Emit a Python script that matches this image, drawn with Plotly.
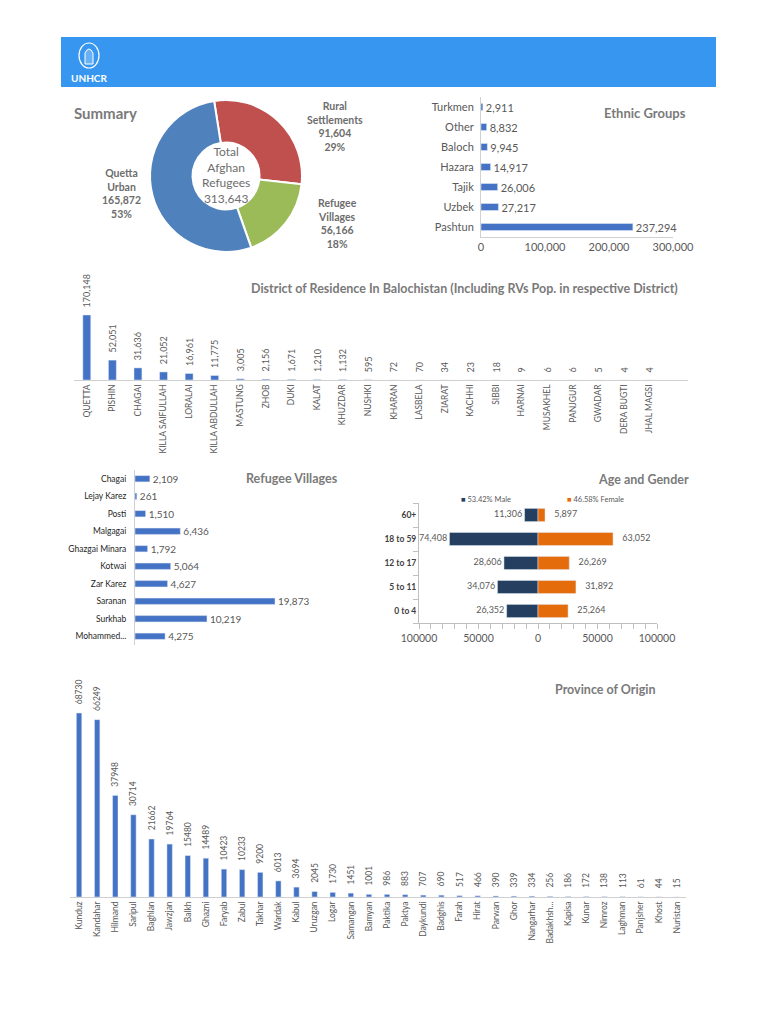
import plotly.graph_objects as go

# ---------------- DATA ----------------
summary_labels = ["Rural Settlements", "Refugee Villages", "Quetta Urban"]
summary_values = [91604, 56166, 165872]
summary_pct = ["29%", "18%", "53%"]
summary_total = 313643

ethnic_groups = ["Turkmen", "Other", "Baloch", "Hazara", "Tajik", "Uzbek", "Pashtun"]
ethnic_values = [2911, 8832, 9945, 14917, 26006, 27217, 237294]

districts = ["QUETTA", "PISHIN", "CHAGAI", "KILLA SAIFULLAH", "LORALAI", "KILLA ABDULLAH",
             "MASTUNG", "ZHOB", "DUKI", "KALAT", "KHUZDAR", "NUSHKI", "KHARAN", "LASBELA",
             "ZIARAT", "KACHHI", "SIBBI", "HARNAI", "MUSAKHEL", "PANJGUR", "GWADAR",
             "DERA BUGTI", "JHAL MAGSI"]
district_values = [170148, 52051, 31636, 21052, 16961, 11775, 3005, 2156, 1671, 1210, 1132,
                   595, 72, 70, 34, 23, 18, 9, 6, 6, 5, 4, 4]

villages = ["Chagai", "Lejay Karez", "Posti", "Malgagai", "Ghazgai Minara", "Kotwai",
            "Zar Karez", "Saranan", "Surkhab", "Mohammed..."]
village_values = [2109, 261, 1510, 6436, 1792, 5064, 4627, 19873, 10219, 4275]

age_groups = ["0 to 4", "5 to 11", "12 to 17", "18 to 59", "60+"]
male_values = [26352, 34076, 28606, 74408, 11306]
female_values = [25264, 31892, 26269, 63052, 5897]
male_label = "53.42% Male"
female_label = "46.58% Female"
age_ticks = [-100000, -50000, 0, 50000, 100000]
age_ticktext = ["100000", "50000", "0", "50000", "100000"]

provinces = ["Kunduz", "Kandahar", "Hilmand", "Saripul", "Baghlan", "Jawzjan", "Balkh",
             "Ghazni", "Faryab", "Zabul", "Takhar", "Wardak", "Kabul", "Uruzgan", "Logar",
             "Samangan", "Bamyan", "Paktika", "Paktya", "Daykundi", "Badghis", "Farah",
             "Hirat", "Parwan", "Ghor", "Nangarhar", "Badakhsh...", "Kapisa", "Kunar",
             "Nimroz", "Laghman", "Panjsher", "Khost", "Nuristan"]
province_values = [68730, 66249, 37948, 30714, 21662, 19764, 15480, 14489, 10423, 10233,
                   9200, 6013, 3694, 2045, 1730, 1451, 1001, 986, 883, 707, 690, 517, 466,
                   390, 339, 334, 256, 186, 172, 138, 113, 61, 44, 15]

# ---------------- STYLE ----------------
W, H = 768, 1024
FONT = "Lato"
BLUE = "#4472C4"
GRAY = "#595959"
TITLE_GRAY = "#7a7a7a"
AXIS_GRAY = "#D0D0D0"
NAVY = "#243F60"
ORANGE = "#E46C0A"
NB = "\u00a0"


def px(x):
    return x / W


def py(y):
    return 1 - y / H


fig = go.Figure()

# ---- Summary donut ----
fig.add_trace(go.Pie(
    labels=summary_labels, values=summary_values, hole=0.44, sort=False,
    direction="clockwise", rotation=-9, textinfo="none",
    marker=dict(colors=["#C0504D", "#9BBB59", "#4F81BD"], line=dict(color="white", width=2)),
    domain=dict(x=[px(150), px(302)], y=[py(252), py(100)]), showlegend=False,
))

# ---- Ethnic groups ----
fig.add_trace(go.Bar(
    x=ethnic_values, y=ethnic_groups, orientation="h", width=0.35,
    marker_color=BLUE, text=[f"{v:,}" for v in ethnic_values], textposition="outside",
    constraintext="none",
    textfont=dict(size=11, color=GRAY), cliponaxis=False, xaxis="x", yaxis="y",
    showlegend=False,
))

# ---- Districts ----
fig.add_trace(go.Bar(
    x=districts, y=district_values, width=0.31, marker_color=BLUE,
    text=[f"{NB * 2}{v:,}" for v in district_values], textposition="outside", textangle=-90,
    constraintext="none",
    textfont=dict(size=9, color=GRAY), cliponaxis=False, xaxis="x2", yaxis="y2",
    showlegend=False,
))

# ---- Refugee villages ----
fig.add_trace(go.Bar(
    x=village_values, y=villages, orientation="h", width=0.36, marker_color=BLUE,
    text=[f"{v:,}" for v in village_values], textposition="outside",
    constraintext="none",
    textfont=dict(size=10, color=GRAY), cliponaxis=False, xaxis="x3", yaxis="y3",
    showlegend=False,
))

# ---- Age and gender ----
fig.add_trace(go.Bar(
    x=[-v for v in male_values], y=age_groups, orientation="h", width=0.55,
    marker_color=NAVY, xaxis="x4", yaxis="y4", showlegend=False,
))
fig.add_trace(go.Bar(
    x=female_values, y=age_groups, orientation="h", width=0.55,
    marker_color=ORANGE, xaxis="x4", yaxis="y4", showlegend=False,
))
fig.add_trace(go.Scatter(
    x=[-v for v in male_values], y=age_groups, mode="text",
    text=[f"{v:,} " for v in male_values], textposition="middle left",
    textfont=dict(size=9, color=GRAY), xaxis="x4", yaxis="y4", showlegend=False,
    cliponaxis=False,
))
fig.add_trace(go.Scatter(
    x=female_values, y=age_groups, mode="text",
    text=[f"    {v:,}" for v in female_values], textposition="middle right",
    textfont=dict(size=9, color=GRAY), xaxis="x4", yaxis="y4", showlegend=False,
    cliponaxis=False,
))

# ---- Province of origin ----
fig.add_trace(go.Bar(
    x=provinces, y=province_values, width=0.3, marker_color=BLUE,
    text=[f"{NB * 4}{v}" for v in province_values], textposition="outside", textangle=-90,
    constraintext="none",
    textfont=dict(size=8.5, color=GRAY), cliponaxis=False, xaxis="x5", yaxis="y5",
    showlegend=False,
))

axis_common = dict(showgrid=False, zeroline=False, fixedrange=True, automargin=False)

fig.update_layout(
    width=W, height=H, autosize=False,
    margin=dict(l=0, r=0, t=0, b=0, autoexpand=False),
    paper_bgcolor="white", plot_bgcolor="white",
    font=dict(family=FONT, color=GRAY),
    barmode="relative",
    # Ethnic
    xaxis=dict(axis_common, domain=[px(481), px(673)], anchor="y", range=[0, 300000],
               tickvals=[0, 100000, 200000, 300000], tickformat=",",
               tickfont=dict(size=11, color=GRAY), showline=True, linecolor=AXIS_GRAY,
               ticks=""),
    yaxis=dict(axis_common, domain=[py(237), py(97)], anchor="x", autorange="reversed",
               tickfont=dict(size=11, color=GRAY), showline=True, linecolor=AXIS_GRAY,
               ticks="", ticklabelstandoff=4),
    # Districts
    xaxis2=dict(axis_common, domain=[px(74), px(688)], anchor="y2", range=[-0.5, 23.5],
                tickangle=-90, tickfont=dict(size=8.5, color=GRAY), showline=True,
                linecolor=AXIS_GRAY, ticks=""),
    yaxis2=dict(axis_common, domain=[py(380), py(270)], anchor="x2",
                range=[0, 170148 * 110 / 65], visible=False),
    # Villages
    xaxis3=dict(axis_common, domain=[px(135), px(335)], anchor="y3",
                range=[0, 19873 * 200 / 140], visible=False),
    yaxis3=dict(axis_common, domain=[py(645), py(470)], anchor="x3", autorange="reversed",
                tickfont=dict(size=8.5, color="#262626"), showline=True,
                linecolor=AXIS_GRAY, ticks="", ticklabelstandoff=6),
    # Age and gender
    xaxis4=dict(axis_common, domain=[px(419), px(657)], anchor="y4",
                range=[-100000, 100000], tickvals=age_ticks, ticktext=age_ticktext,
                tickfont=dict(size=10.5, color=GRAY), showline=True, linecolor="#BFBFBF",
                ticks="outside", ticklen=5, tickcolor="#BFBFBF",
                minor=dict(dtick=10000, ticks="outside", ticklen=5, tickcolor="#BFBFBF")),
    yaxis4=dict(axis_common, domain=[py(623), py(503)], anchor="x4",
                tickfont=dict(size=8.5, color="#404040", weight="bold"), showline=True,
                linecolor="#BFBFBF", ticks="outside", ticklen=5, tickcolor="#BFBFBF",
                tickson="boundaries"),
    # Province
    xaxis5=dict(axis_common, domain=[px(70), px(686)], anchor="y5", range=[-0.5, 33.5],
                tickangle=-90, tickfont=dict(size=8.5, color=GRAY), showline=True,
                linecolor=AXIS_GRAY, ticks=""),
    yaxis5=dict(axis_common, domain=[py(897), py(660)], anchor="x5",
                range=[0, 68730 * 237 / 184], visible=False),
)

# ---- Header banner ----
fig.add_shape(type="rect", xref="paper", yref="paper", x0=px(61), x1=px(716),
              y0=py(87), y1=py(37), fillcolor="#3797F0", line=dict(width=0), layer="below")
fig.add_shape(type="circle", xref="paper", yref="paper", x0=px(79), x1=px(99),
              y0=py(68), y1=py(43), line=dict(color="white", width=1.2))
fig.add_shape(type="path", xref="paper", yref="paper",
              path=f"M {px(85)},{py(64)} L {px(85)},{py(53)} Q {px(89)},{py(45)} {px(93)},{py(53)} L {px(93)},{py(64)} Z",
              line=dict(color="white", width=1), fillcolor="rgba(255,255,255,0.25)")
fig.add_annotation(x=px(89), y=py(78), xref="paper", yref="paper", text="<b>UNHCR</b>",
                   showarrow=False, font=dict(family=FONT, size=10, color="white"),
                   xanchor="center", yanchor="middle")


def note(x, y, text, size=11, color=GRAY, bold=False, xanchor="center"):
    fig.add_annotation(x=px(x), y=py(y), xref="paper", yref="paper",
                       text=f"<b>{text}</b>" if bold else text, showarrow=False,
                       font=dict(family=FONT, size=size, color=color), xanchor=xanchor,
                       yanchor="middle", align="center")


# Titles
note(72, 113, "Summary", size=15, color=TITLE_GRAY, bold=True, xanchor="left")
note(645, 113, "Ethnic Groups", size=13, color=TITLE_GRAY, bold=True)
note(464, 288, "District of Residence In Balochistan (Including RVs Pop. in respective District)",
     size=12.5, color=TITLE_GRAY, bold=True)
note(292, 478, "Refugee Villages", size=12.5, color=TITLE_GRAY, bold=True)
note(643, 479, "Age and Gender", size=12.5, color=TITLE_GRAY, bold=True)
note(605, 689, "Province of Origin", size=12.5, color=TITLE_GRAY, bold=True)

# Donut labels
note(335, 126, f"<b>Rural<br>Settlements<br>{summary_values[0]:,}<br>{summary_pct[0]}</b>",
     size=10.5, color="#6d6d6d")
note(337, 223, f"<b>Refugee<br>Villages<br>{summary_values[1]:,}<br>{summary_pct[1]}</b>",
     size=10.5, color="#6d6d6d")
note(121, 193, f"<b>Quetta<br>Urban<br>{summary_values[2]:,}<br>{summary_pct[2]}</b>",
     size=10.5, color="#6d6d6d")
note(226, 175, f"Total<br>Afghan<br>Refugees<br>{summary_total:,}", size=12, color="#6d6d6d")

# Age/gender legend
note(459, 499, f"<span style='color:{NAVY}'>■</span> {male_label}", size=7.5,
     color=GRAY, xanchor="left")
note(565, 499, f"<span style='color:{ORANGE}'>■</span> {female_label}", size=7.5,
     color=GRAY, xanchor="left")

fig.write_html("out.html")
